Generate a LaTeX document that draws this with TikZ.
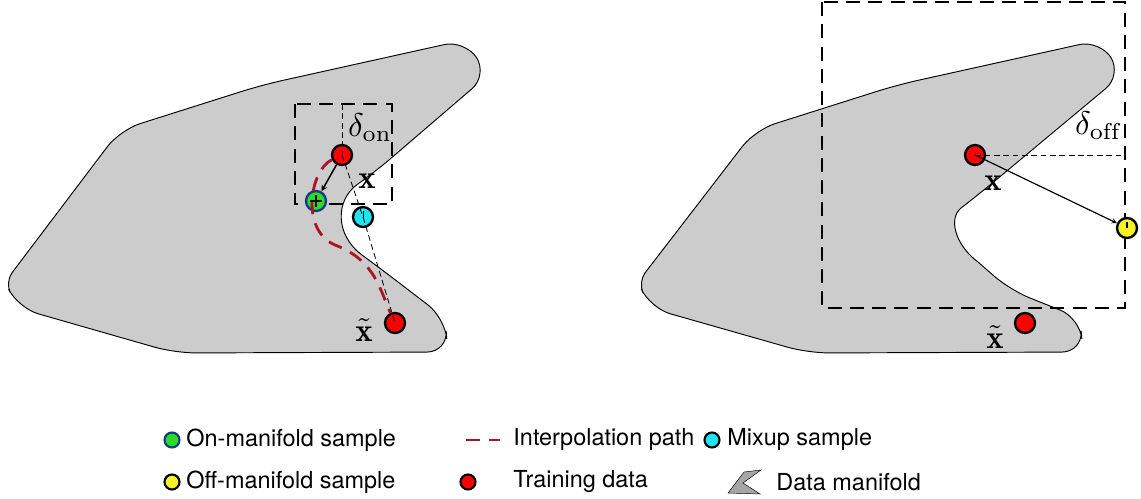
\documentclass[tikz,border=0pt]{standalone}
\usepackage{fontspec}
\usepackage{amsmath}
\newfontfamily\legendfont{TeX Gyre Heros}
\definecolor{manifoldgray}{RGB}{204,204,204}
\definecolor{pathred}{RGB}{170,20,40}
\definecolor{ongreen}{RGB}{40,220,40}
\definecolor{onblue}{RGB}{20,60,130}
\definecolor{mixcyan}{RGB}{30,230,240}
\definecolor{offyellow}{RGB}{245,240,40}
\begin{document}
\begin{tikzpicture}[
        x=0.03cm, y=-0.03cm,
        manifold/.style={fill=manifoldgray, draw=black, line width=0.8pt, rounded corners=18},
        sample/.style={circle, draw=black, line width=2pt, minimum size=0.6cm, inner sep=0pt},
        train/.style={sample, fill=red},
        box/.style={draw=black, line width=2.4pt, dash pattern=on 12pt off 7pt},
        guide/.style={draw=black, line width=0.7pt, dash pattern=on 5pt off 3pt},
        interp/.style={draw=pathred, line width=2.4pt, dash pattern=on 12pt off 8pt},
        lbl/.style={scale=2.8},
        legend/.style={font=\legendfont, scale=2.0, anchor=west, inner sep=0pt},
        key/.style={sample, line width=1.8pt, minimum size=0.45cm},
        >=stealth
    ]
    \useasboundingbox (0,0) rectangle (1141,498);

    % Manifolds
    \path[manifold] (175,353) -- (18,308) [rounded corners=10] -- (5,282) [rounded corners=18] -- (120,130) -- (262,85) -- (465,40)
        -- (488,75) -- (375,172) [rounded corners=0] .. controls (335,200) and (335,235) .. (362,255)
        [rounded corners=18] -- (385,272) -- (445,318) -- (448,352) -- cycle;
    \path[manifold] (808,353) -- (650,308) [rounded corners=10] -- (638,282) [rounded corners=18] -- (755,130) -- (897,85) -- (1100,40)
        -- (1122,75) -- (978,195) [rounded corners=0] .. controls (948,218) and (955,245) .. (978,262)
        [rounded corners=18] -- (1010,290) -- (1080,318) -- (1083,352) -- cycle;

    % Left: on-manifold
    \draw[box] (295,104) rectangle (392,204);
    \node[train] (xL) at (342,155) {};
    \node[sample, fill=ongreen, draw=onblue] (on) at (316,201) {};
    \node[sample, fill=mixcyan] (mix) at (363,217) {};
    \node[train] (xtL) at (395,323) {};
    \coordinate (topL) at (342,104);
    \draw[guide] (topL) -- (xL.center);
    \draw[guide] (xL.center) -- (mix.center) -- (xtL.center);
    \draw[interp] (xL) .. controls (310,170) and (300,230) .. (335,245)
        .. controls (375,260) and (380,290) .. (xtL);
    \draw[line width=1.3pt, ->] (xL) -- (on);
    \draw[line width=1.3pt] ([xshift=-5pt]on.center) -- ([xshift=5pt]on.center)
        ([yshift=-5pt]on.center) -- ([yshift=5pt]on.center);
    \draw (mix.center) -- ([yshift=5pt]mix.center);
    \node[lbl] (dOn) at (370,128) {$\delta_{\mathrm{on}}$};
    \node[lbl] (xLabL) at (367,181) {$\mathbf{x}$};
    \node[lbl] (xtLabL) at (364,330) {$\tilde{\mathbf{x}}$};

    % Right: off-manifold
    \draw[box] (822,2) rectangle (1125,308);
    \node[train] (xR) at (975,155) {};
    \node[sample, fill=offyellow] (off) at (1127,228) {};
    \node[train] (xtR) at (1025,323) {};
    \coordinate (sideR) at (1125,155);
    \draw[guide] (xR.center) -- (sideR);
    \draw[line width=1pt, ->] (xR.center) -- (off);
    \draw[line width=1.3pt] (off.center) -- ([yshift=5pt]off.center);
    \node[lbl] (dOff) at (1098,126) {$\delta_{\mathrm{off}}$};
    \node[lbl] (xLabR) at (993,183) {$\mathbf{x}$};
    \node[lbl] (xtLabR) at (995,337) {$\tilde{\mathbf{x}}$};

    % Legend
    \node[key, fill=ongreen, draw=onblue] (kOn) at (172,440) {};
    \node[legend] (tOn) at (186,440) {On-manifold sample};
    \coordinate (kPa) at (466,440);
    \coordinate (kPb) at (500,440);
    \draw[interp] (kPa) -- (kPb);
    \node[legend] (tPath) at (513,440) {Interpolation path};
    \node[key, fill=mixcyan] (kMix) at (712,440) {};
    \node[legend] (tMix) at (727,440) {Mixup sample};
    \node[key, fill=offyellow] (kOff) at (172,482) {};
    \node[legend] (tOff) at (186,482) {Off-manifold sample};
    \node[key, fill=red] (kTrain) at (468,482) {};
    \node[legend] (tTrain) at (513,482) {Training data};
    \path[fill=gray!70, draw=black, thin] (728,493) -- (744,472) -- (761,470) -- (743,483) -- (760,494) -- cycle;
    \node[legend] (tMan) at (776,482) {Data manifold};
\end{tikzpicture}
\end{document}
